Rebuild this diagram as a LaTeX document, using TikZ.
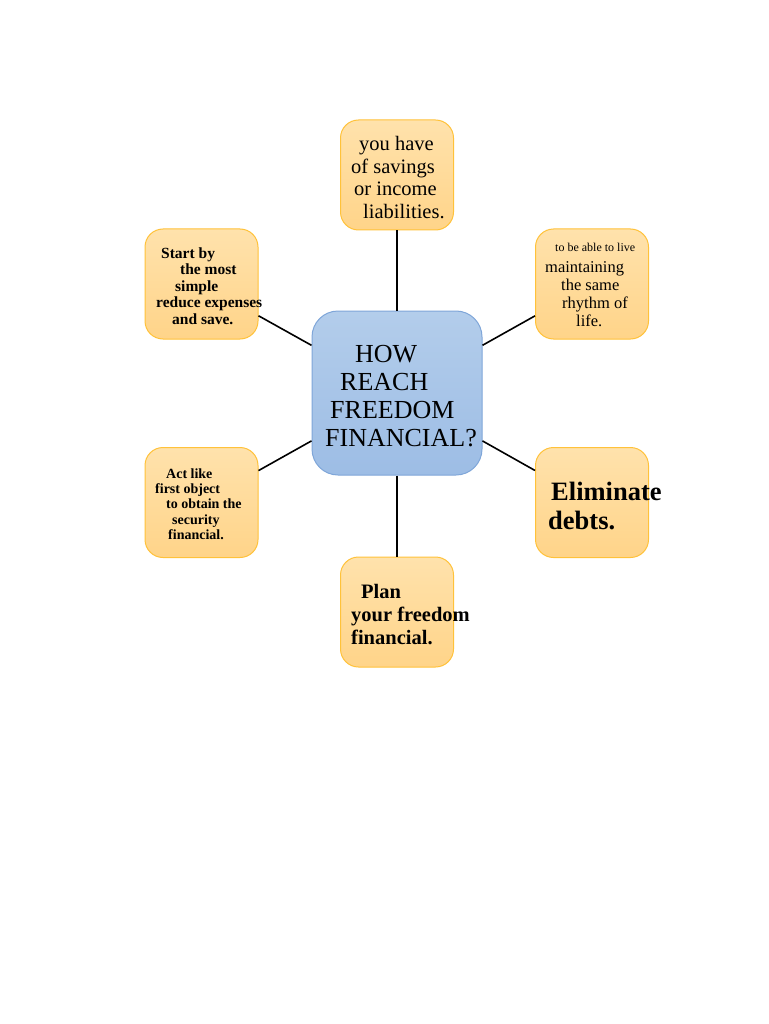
\documentclass[tikz,border=0pt]{standalone}
\usepackage{fontspec}
\setmainfont{Liberation Serif}
\usetikzlibrary{positioning}

\definecolor{boxtop}{HTML}{FFE2AC}
\definecolor{boxbot}{HTML}{FFD489}
\definecolor{boxline}{HTML}{FFC23A}
\definecolor{hubtop}{HTML}{B3CDEB}
\definecolor{hubbot}{HTML}{9DBDE5}
\definecolor{hubline}{HTML}{7FA6D9}

\newcommand{\fsz}[2]{\fontsize{#1}{#2}\selectfont}

\begin{document}
\begin{tikzpicture}[
    x=1pt, y=-1pt,
    box/.style={draw=boxline, line width=1pt, rounded corners=18pt,
      top color=boxtop, bottom color=boxbot,
      minimum width=113pt, minimum height=110pt, inner sep=0pt},
    hub/.style={draw=hubline, line width=1pt, rounded corners=26pt,
      top color=hubtop, bottom color=hubbot,
      minimum width=170pt, minimum height=164pt, inner sep=0pt},
    txt/.style={anchor=west, align=left, inner sep=0pt},
    conn/.style={line width=1.6pt}
  ]

  \path[fill=white] (0,0) rectangle (768,1024);

  % riquadri
  \node[hub] (hub) at (397,393) {};
  \node[box] (savings) at (397,175) {};
  \node[box] (start) at (201.5,284) {};
  \node[box] (rhythm) at (592,284) {};
  \node[box] (act) at (201.5,502.5) {};
  \node[box] (debts) at (592,502.5) {};
  \node[box] (plan) at (397,612) {};

  % testi
  \node[txt, font=\fsz{26}{28}] (hubtxt) at (325,396)
    {\hspace*{30pt}HOW\\\hspace*{15pt}REACH\\\hspace*{5pt}FREEDOM\\FINANCIAL?};
  \node[txt, font=\fsz{20.5}{22.5}] (savingstxt) at (351,177.5)
    {\hspace*{8pt}you have\\of savings\\\hspace*{3pt}or income\\\hspace*{12pt}liabilities.};
  \node[txt, font=\bfseries\fsz{15.5}{16.5}] (starttxt) at (156,286)
    {\hspace*{5pt}Start by\\\hspace*{24pt}the most\\\hspace*{19pt}simple\\reduce expenses\\\hspace*{16pt}and save.};
  \node[txt, font=\fsz{16.5}{18}] (rhythmtxt) at (545,285)
    {\hspace*{10pt}{\fsz{12}{13}to be able to live}\\[3pt]maintaining\\\hspace*{16pt}the same\\\hspace*{17pt}rhythm of\\\hspace*{31pt}life.};
  \node[txt, font=\bfseries\fsz{14}{15.3}] (acttxt) at (155,504)
    {\hspace*{11pt}Act like\\first object\\\hspace*{11pt}to obtain the\\\hspace*{17pt}security\\\hspace*{13pt}financial.};
  \node[txt, font=\bfseries\fsz{26.5}{29}] (debtstxt) at (548,505.5)
    {\hspace*{3pt}Eliminate\\debts.};
  \node[txt, font=\bfseries\fsz{20.5}{23}] (plantxt) at (351,615)
    {\hspace*{10pt}Plan\\your freedom\\financial.};

  % collegamenti
  \draw[conn] (hub) -- (savings);
  \draw[conn] (hub) -- (start);
  \draw[conn] (hub) -- (rhythm);
  \draw[conn] (hub) -- (act);
  \draw[conn] (hub) -- (debts);
  \draw[conn] (hub) -- (plan);

\end{tikzpicture}
\end{document}
